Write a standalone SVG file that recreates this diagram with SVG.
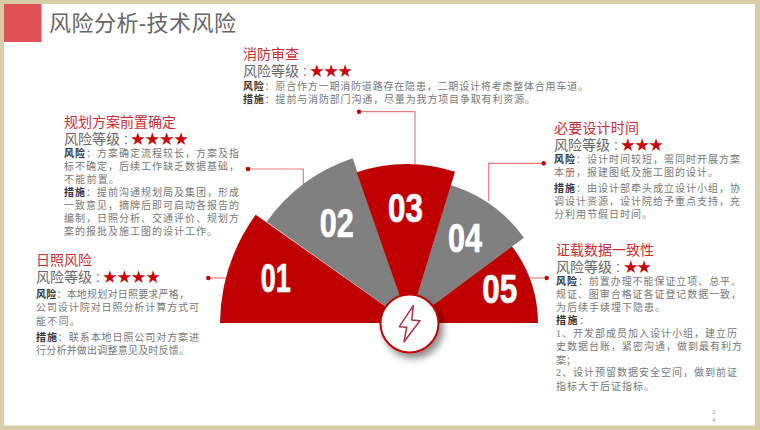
<svg xmlns="http://www.w3.org/2000/svg" width="760" height="430" viewBox="0 0 760 430">
<style>
text{font-family:"Liberation Sans","Noto Sans CJK SC",sans-serif}
.h{font-size:14px;fill:#cf2a33}
.l{font-size:14px;fill:#666}
.s{font-size:17.500px;fill:#c8050a;font-family:"DejaVu Sans",sans-serif}
.b{font-size:10px;fill:#777;font-family:"Liberation Serif","Noto Sans CJK SC",serif}
.b tspan{font-weight:700;fill:#333}
.n{font-family:"Liberation Sans",Arial,sans-serif;font-weight:700;font-size:40px;fill:#fff;stroke:#fff;stroke-width:.7}
.r{fill:#c00000}.g{fill:#808080}
.c{fill:none;stroke:#e87a80;stroke-width:1.2}
.d{fill:#c00000}
</style>
<defs>
<filter id="sh" x="-50%" y="-50%" width="200%" height="200%"><feDropShadow dx="4" dy="5" stdDeviation="3.5" flood-color="#000" flood-opacity=".45"/></filter>
</defs>
<rect width="760" height="430" fill="#d9cca9"/>
<rect x="4" y="4" width="751" height="421.5" fill="#fff"/>
<rect x="4" y="4" width="37.5" height="38" fill="#e05155"/>
<text x="49" y="30.5" font-size="22" fill="#666" textLength="187">风险分析-技术风险</text>

<g id="connectors">
<path class="c" d="M359 111.700H415V164"/><circle class="d" cx="359" cy="111.700" r="2.200"/>
<path class="c" d="M248 169H303.300V187"/><circle class="d" cx="248" cy="169" r="2.200"/>
<path class="c" d="M543.700 163.300H488.700V201"/><circle class="d" cx="543.700" cy="163.300" r="2.200"/>
<path class="c" d="M208.300 278H227"/><circle class="d" cx="208.300" cy="278" r="2.200"/>
<path class="c" d="M546.700 278H531"/><circle class="d" cx="546.700" cy="278" r="2.200"/>
</g>

<g id="node-01"><path class="r" d="M409 323H220A189 189 0 0 1 255.700 214.700Z"/><text class="n" x="260.700" y="291.500" textLength="30" lengthAdjust="spacingAndGlyphs">01</text></g>
<g id="node-05"><path class="r" d="M409 323H538A128 128 0 0 0 511.700 246Z"/><text class="n" x="482.300" y="303" textLength="35" lengthAdjust="spacingAndGlyphs">05</text></g>
<g id="node-02"><path class="g" d="M409 323L266.700 221.700A174 174 0 0 1 352.700 158.300Z"/><text class="n" x="319.700" y="236.500" textLength="34" lengthAdjust="spacingAndGlyphs">02</text></g>
<g id="node-04"><path class="g" d="M409 323L450.700 185A144 144 0 0 1 524 237.700Z"/><text class="n" x="448" y="251.500" textLength="34" lengthAdjust="spacingAndGlyphs">04</text></g>
<g id="node-03"><path class="r" d="M409 323L356.700 172.300A159 159 0 0 1 455 171.700Z"/><text class="n" x="388" y="221.500" textLength="35" lengthAdjust="spacingAndGlyphs">03</text></g>
<g id="node-center">
<circle cx="409.500" cy="323.500" r="29" fill="#fff" stroke="#c00000" stroke-width="2" filter="url(#sh)"/>
<path d="M413.300 305.700L399.300 326.700L406.700 327.300L404 341.700L420 320.700L411.700 320Z" fill="none" stroke="#a83346" stroke-width="1.500" stroke-linejoin="round"/>
</g>

<g id="text-03">
<text class="h" x="243" y="59">消防审查</text>
<text class="l" x="243" y="76">风险等级 :</text>
<text class="s" x="309" y="77" textLength="44">★★★</text>
<text class="b" x="243" y="89.500" textLength="345"><tspan>风险</tspan>：原合作方一期消防道路存在隐患，二期设计将考虑整体合用车道。</text>
<text class="b" x="243" y="102.500" textLength="292"><tspan>措施</tspan>：提前与消防部门沟通，尽量为我方项目争取有利资源。</text>
</g>

<g id="text-02">
<text class="h" x="64" y="126.500" textLength="112">规划方案前置确定</text>
<text class="l" x="64" y="144">风险等级 :</text>
<text class="s" x="130" y="145" textLength="59">★★★★</text>
<text class="b" x="64" y="156.700" textLength="175"><tspan>风险</tspan>：方案确定流程较长，方案及指</text>
<text class="b" x="64" y="169.700" textLength="175">标不确定，后续工作缺乏数据基础，</text>
<text class="b" x="64" y="182.700" textLength="55">不能前置。</text>
<text class="b" x="64" y="195.700" textLength="175"><tspan>措施</tspan>：提前沟通规划局及集团，形成</text>
<text class="b" x="64" y="208.500" textLength="175">一致意见，摘牌后即可启动各报告的</text>
<text class="b" x="64" y="222" textLength="175">编制，日照分析、交通评价、规划方</text>
<text class="b" x="64" y="234.700" textLength="153">案的报批及施工图的设计工作。</text>
</g>

<g id="text-01">
<text class="h" x="36" y="265">日照风险</text>
<text class="l" x="36" y="282">风险等级 :</text>
<text class="s" x="102" y="283" textLength="59">★★★★</text>
<text class="b" x="36" y="297.700" textLength="153"><tspan>风险</tspan>：本地规划对日照要求严格，</text>
<text class="b" x="36" y="311.400" textLength="163">公司设计院对日照分析计算方式可</text>
<text class="b" x="36" y="324.700" textLength="44">能不同。</text>
<text class="b" x="36" y="340.700" textLength="163"><tspan>措施</tspan>：联系本地日照公司对方案进</text>
<text class="b" x="36" y="354.400" textLength="153">行分析并做出调整意见及时反馈。</text>
</g>

<g id="text-04">
<text class="h" x="554" y="132.500" textLength="85">必要设计时间</text>
<text class="l" x="554" y="150">风险等级 :</text>
<text class="s" x="620" y="151" textLength="44">★★★</text>
<text class="b" x="554" y="162.700" textLength="186"><tspan>风险</tspan>：设计时间较短，需同时开展方案</text>
<text class="b" x="554" y="176.200" textLength="164">本册，报建图纸及施工图的设计。</text>
<text class="b" x="554" y="192.200" textLength="186"><tspan>措施</tspan>：由设计部牵头成立设计小组，协</text>
<text class="b" x="554" y="205.200" textLength="186">调设计资源，设计院给予重点支持，充</text>
<text class="b" x="554" y="218.400" textLength="98">分利用节假日时间。</text>
</g>

<g id="text-05">
<text class="h" x="556" y="254.500" textLength="98">证载数据一致性</text>
<text class="l" x="556" y="271.700">风险等级 :</text>
<text class="s" x="623" y="272.700" textLength="29">★★</text>
<text class="b" x="556" y="284.700" textLength="185"><tspan>风险</tspan>：前置办理不能保证立项、总平、</text>
<text class="b" x="556" y="298" textLength="185">规证、图审合格证各证登记数据一致，</text>
<text class="b" x="556" y="311" textLength="109">为后续手续埋下隐患。</text>
<text class="b" x="556" y="324.400" textLength="33"><tspan>措施</tspan>：</text>
<text class="b" x="556" y="337" textLength="181">1、开发部成员加入设计小组，建立历</text>
<text class="b" x="556" y="350.400" textLength="186">史数据台账，紧密沟通，做到最有利方</text>
<text class="b" x="556" y="363.700">案；</text>
<text class="b" x="556" y="376.400" textLength="181">2、设计预留数据安全空间，做到前证</text>
<text class="b" x="556" y="389.700" textLength="98">指标大于后证指标。</text>
</g>

<text x="714" y="414" font-size="6" fill="#999" text-anchor="middle">2</text>
<text x="714" y="422" font-size="6" fill="#999" text-anchor="middle">4</text>
</svg>
